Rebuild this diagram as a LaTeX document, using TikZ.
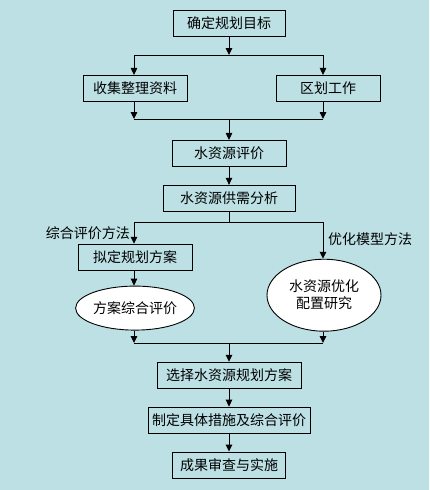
\documentclass[tikz,border=0pt]{standalone}
\usepackage{fontspec}
\usepackage{tikz}
\usetikzlibrary{positioning,arrows.meta,shapes.geometric}
\newfontfamily\cjk{Noto Sans CJK SC}
\definecolor{bgcyan}{RGB}{188,224,228}

\begin{document}
\begin{tikzpicture}[x=1pt, y=-1pt,
  stepbox/.style={draw, line width=0.9pt, minimum height=26pt, inner sep=1pt,
                  font=\cjk\fontsize{14}{16}\selectfont},
  oval/.style={draw, ellipse, fill=white, line width=0.9pt, inner sep=0pt,
               align=center, font=\cjk\fontsize{14}{17}\selectfont},
  lbl/.style={inner sep=0pt, font=\cjk\fontsize{14}{16}\selectfont},
  flow/.style={line width=0.9pt},
  arr/.style={flow, -{Triangle[length=7pt,width=6.5pt]}},
  ]
  \fill[bgcyan] (0,0) rectangle (429,490);
  \useasboundingbox (0,0) rectangle (429,490);

  % main column
  \node[stepbox, minimum width=112pt] (goal) at (229,23.5) {确定规划目标};
  \node[stepbox, minimum width=104pt, below=38pt of goal, xshift=-94pt] (data) {收集整理资料};
  \node[stepbox, minimum width=104pt, below=38pt of goal, xshift=99pt] (zone) {区划工作};
  \node[stepbox, minimum width=114pt, below=103pt of goal] (eval) {水资源评价};
  \node[stepbox, minimum width=132pt, below=18pt of eval] (supply) {水资源供需分析};
  \node[stepbox, minimum width=114pt, below=32pt of supply, xshift=-94pt] (draft) {拟定规划方案};
  \node[oval, minimum width=106pt, minimum height=44pt, below=15pt of draft] (judge) {方案综合评价};
  \node[oval, minimum width=114pt, minimum height=72pt, below=47pt of supply, xshift=95pt] (optim) {水资源优化\\配置研究};
  \node[stepbox, minimum width=144pt, below=150pt of supply] (choose) {选择水资源规划方案};
  \node[stepbox, minimum width=162pt, below=18pt of choose] (measure) {制定具体措施及综合评价};
  \node[stepbox, minimum width=113pt, below=18pt of measure] (review) {成果审查与实施};

  % branch labels
  \node[lbl, anchor=east] (lblL) at (130,233) {综合评价方法};
  \node[lbl, anchor=west] (lblR) at (328,239) {优化模型方法};

  % junctions
  \coordinate (j1) at (229,55);   \coordinate (j1l) at (134,55);  \coordinate (j1r) at (323,55);
  \coordinate (j2) at (229,119);  \coordinate (j2l) at (134,119); \coordinate (j2r) at (323,119);
  \coordinate (j3) at (229,222);  \coordinate (j3l) at (134,222); \coordinate (j3r) at (323,222);
  \coordinate (j4) at (229,343);  \coordinate (j4l) at (134,343); \coordinate (j4r) at (323,343);

  \draw[arr] (goal) -- (j1);
  \draw[flow] (j1l) -- (j1r);
  \draw[arr] (j1l) -- (j1l |- data.north);
  \draw[arr] (j1r) -- (j1r |- zone.north);

  \draw[arr] (j2l |- data.south) -- (j2l);
  \draw[arr] (j2r |- zone.south) -- (j2r);
  \draw[flow] (j2l) -- (j2r);
  \draw[arr] (j2) -- (eval);
  \draw[arr] (eval) -- (supply);

  \draw[flow] (supply) -- (j3);
  \draw[flow] (j3l) -- (j3r);
  \draw[arr] (j3l) -- (j3l |- draft.north);
  \draw[arr] (j3r) -- (j3r |- optim.north);
  \draw[arr] (j3l |- draft.south) -- (j3l |- judge.north);

  \draw[arr] (j4l |- judge.south) -- (j4l);
  \draw[arr] (j4r |- optim.south) -- (j4r);
  \draw[flow] (j4l) -- (j4r);
  \draw[arr] (j4) -- (choose);
  \draw[arr] (choose) -- (measure);
  \draw[arr] (measure) -- (review);
\end{tikzpicture}
\end{document}
